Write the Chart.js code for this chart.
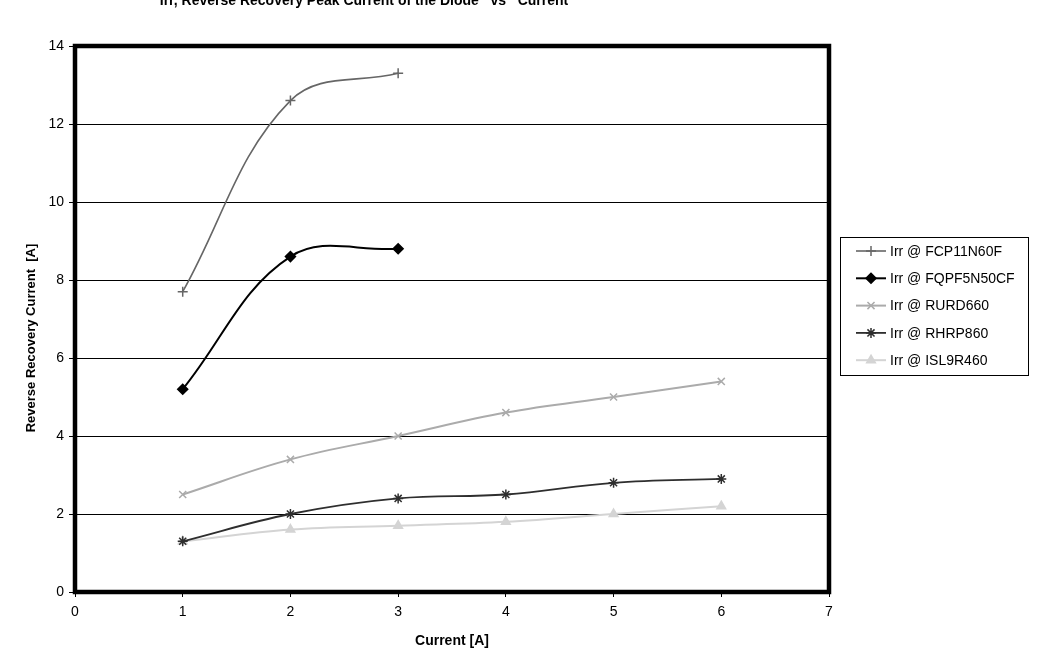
<!DOCTYPE html>
<html>
<head>
<meta charset="utf-8">
<script src="https://cdn.jsdelivr.net/npm/chart.js@4.4.1/dist/chart.umd.min.js"></script>
<style>
  html, body { margin: 0; padding: 0; background: #fff; }
  #wrap { position: relative; width: 1062px; height: 666px; }
</style>
</head>
<body>
<div id="wrap"><canvas id="irrChart"></canvas></div>
<script>
// ─── Data ──────────────────────────────────────────────────────────────────
const currents   = [1, 2, 3, 4, 5, 6];
const fcp11n60f  = [7.7, 12.6, 13.3];
const fqpf5n50cf = [5.2, 8.6, 8.8];
const rurd660    = [2.5, 3.4, 4.0, 4.6, 5.0, 5.4];
const rhrp860    = [1.3, 2.0, 2.4, 2.5, 2.8, 2.9];
const isl9r460   = [1.3, 1.6, 1.7, 1.8, 2.0, 2.2];
const seriesNames = ['Irr @ FCP11N60F', 'Irr @ FQPF5N50CF', 'Irr @ RURD660', 'Irr @ RHRP860', 'Irr @ ISL9R460'];
const chartTitle = 'Irr, Reverse Recovery Peak Current of the Diode   vs   Current';
const xTitle = 'Current [A]';
const yTitle = 'Reverse Recovery Current  [A]';

const toPoints = vals => vals.map((v, i) => ({ x: currents[i], y: v }));

function series(label, vals, color, style, width, radius) {
    return {
        label: label,
        data: toPoints(vals),
        borderColor: color,
        backgroundColor: color,
        borderWidth: width,
        tension: 0.38,
        pointStyle: style,
        pointRadius: radius,
        pointBorderWidth: 1.5,
        pointBorderColor: color,
        pointBackgroundColor: color
    };
}

// ─── Plugin: thick frame, titles, boxed legend ────────────────────────────
const decorPlugin = {
    id: 'decor',
    afterDraw(chart) {
        const { ctx, chartArea: a } = chart;
        ctx.save();
        // frame
        ctx.strokeStyle = '#000';
        ctx.lineWidth = 4.5;
        ctx.strokeRect(a.left, a.top, a.right - a.left, a.bottom - a.top);

        // chart title (its top is clipped by the window edge)
        ctx.fillStyle = '#000';
        ctx.font = "bold 14px 'Liberation Sans', Arial, sans-serif";
        ctx.textAlign = 'center';
        ctx.textBaseline = 'alphabetic';
        ctx.fillText(chartTitle, 364, 5);

        // axis titles
        ctx.textBaseline = 'middle';
        ctx.fillText(xTitle, (a.left + a.right) / 2, 641);
        ctx.font = "bold 13px 'Liberation Sans', Arial, sans-serif";
        ctx.save();
        ctx.translate(31, 338);
        ctx.rotate(-Math.PI / 2);
        ctx.fillText(yTitle, 0, 0);
        ctx.restore();

        // legend
        const lx = 840, ly = 237, lw = 188, lh = 138;
        ctx.lineWidth = 1;
        ctx.strokeStyle = '#000';
        ctx.strokeRect(lx + 0.5, ly + 0.5, lw, lh);
        ctx.font = "14px 'Liberation Sans', Arial, sans-serif";
        ctx.textAlign = 'left';
        ctx.textBaseline = 'middle';
        chart.data.datasets.forEach((ds, i) => {
            const y = ly + 14 + i * 27.3;
            ctx.strokeStyle = ds.borderColor;
            ctx.fillStyle = ds.borderColor;
            ctx.lineWidth = ds.borderWidth;
            ctx.beginPath();
            ctx.moveTo(lx + 16, y);
            ctx.lineTo(lx + 46, y);
            ctx.stroke();
            ctx.lineWidth = ds.pointBorderWidth;
            Chart.helpers.drawPoint(ctx, {
                pointStyle: ds.pointStyle, radius: ds.pointRadius,
                rotation: 0, borderWidth: ds.pointBorderWidth
            }, lx + 31, y);
            ctx.fillStyle = '#000';
            ctx.fillText(ds.label, lx + 50, y + 1);
        });
        ctx.restore();
    }
};

new Chart(document.getElementById('irrChart'), {
    type: 'line',
    data: {
        datasets: [
            series(seriesNames[0], fcp11n60f,  '#666666', 'cross',    1.6, 5),
            series(seriesNames[1], fqpf5n50cf, '#000000', 'rectRot',  2,   5),
            series(seriesNames[2], rurd660,    '#ababab', 'crossRot', 2,   5),
            series(seriesNames[3], rhrp860,    '#2e2e2e', 'star',     1.8, 5),
            series(seriesNames[4], isl9r460,   '#d4d4d4', 'triangle', 2,   5)
        ]
    },
    options: {
        responsive: true,
        maintainAspectRatio: false,
        animation: false,
        layout: { padding: { top: 46, right: 233, left: 0, bottom: 0 } },
        plugins: {
            legend: { display: false },
            tooltip: { enabled: false },
            title: { display: false }
        },
        scales: {
            x: {
                type: 'linear',
                min: 0,
                max: 7,
                afterFit: s => { s.height = 74; },
                grid: { drawOnChartArea: false, drawTicks: true, tickLength: 5, color: '#000' },
                border: { display: false },
                ticks: {
                    stepSize: 1,
                    color: '#000',
                    padding: 7,
                    font: { family: "'Liberation Sans', Arial", size: 14 }
                }
            },
            y: {
                min: 0,
                max: 14,
                afterFit: s => { s.width = 75; },
                grid: { color: '#000', lineWidth: 1, drawTicks: true, tickLength: 6 },
                border: { display: false },
                ticks: {
                    stepSize: 2,
                    color: '#000',
                    padding: 5,
                    font: { family: "'Liberation Sans', Arial", size: 14 }
                }
            }
        }
    },
    plugins: [decorPlugin]
});
</script>
</body>
</html>
